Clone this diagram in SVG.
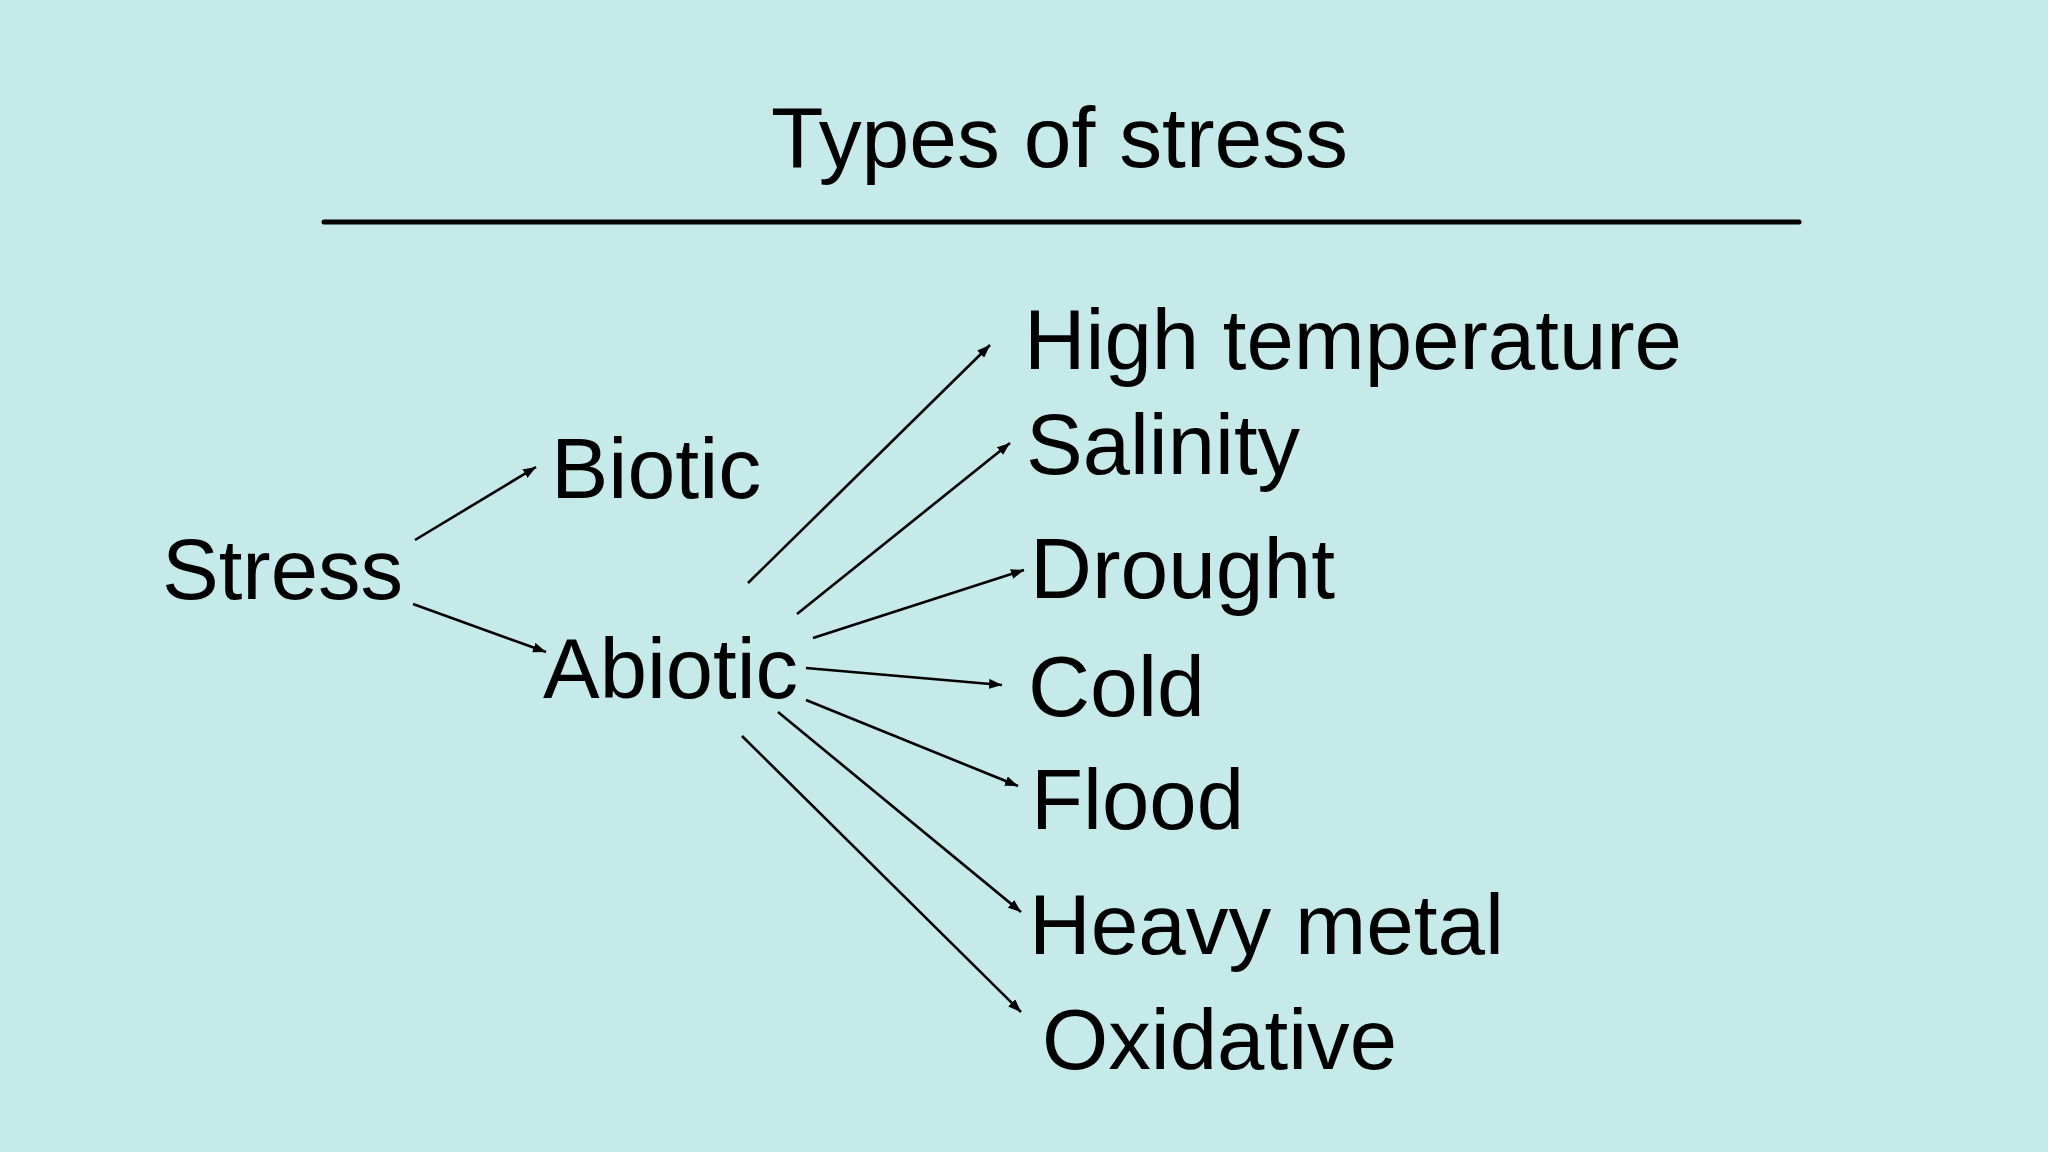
<svg xmlns="http://www.w3.org/2000/svg" width="2048" height="1152" viewBox="0 0 2048 1152">
  <style>
    .lbl { font-family: "Liberation Sans", Arial, sans-serif; font-size: 86px; fill: #000; }
    .conn line { stroke: #000; stroke-width: 2.6; marker-end: url(#arrow); }
  </style>
  <defs>
    <marker id="arrow" markerUnits="userSpaceOnUse" markerWidth="13" markerHeight="10" refX="13" refY="5" orient="auto">
      <path d="M0,0 L13,5 L0,10 z" fill="#000"/>
    </marker>
  </defs>
  <rect x="0" y="0" width="2048" height="1152" fill="#C6E9E9"/>

  <g id="title">
    <text class="lbl" x="771" y="167" textLength="577" lengthAdjust="spacingAndGlyphs">Types of stress</text>
    <line x1="324" y1="222" x2="1799" y2="222" stroke="#000" stroke-width="5" stroke-linecap="round"/>
  </g>

  <g id="node-stress"><text class="lbl" x="162" y="599" textLength="241" lengthAdjust="spacingAndGlyphs">Stress</text></g>
  <g id="node-biotic"><text class="lbl" x="551" y="498">Biotic</text></g>
  <g id="node-abiotic"><text class="lbl" x="543" y="698" textLength="255" lengthAdjust="spacingAndGlyphs">Abiotic</text></g>
  <g id="node-high-temperature"><text class="lbl" x="1024" y="369" textLength="658" lengthAdjust="spacingAndGlyphs">High temperature</text></g>
  <g id="node-salinity"><text class="lbl" x="1026" y="474" textLength="274" lengthAdjust="spacingAndGlyphs">Salinity</text></g>
  <g id="node-drought"><text class="lbl" x="1030" y="598" textLength="305" lengthAdjust="spacingAndGlyphs">Drought</text></g>
  <g id="node-cold"><text class="lbl" x="1028" y="716">Cold</text></g>
  <g id="node-flood"><text class="lbl" x="1031" y="829" textLength="213" lengthAdjust="spacingAndGlyphs">Flood</text></g>
  <g id="node-heavy-metal"><text class="lbl" x="1029" y="954" textLength="475" lengthAdjust="spacingAndGlyphs">Heavy metal</text></g>
  <g id="node-oxidative"><text class="lbl" x="1042" y="1069" textLength="355" lengthAdjust="spacingAndGlyphs">Oxidative</text></g>

  <g id="connectors" class="conn">
    <line x1="415" y1="540" x2="536" y2="467"/>
    <line x1="413" y1="604" x2="546" y2="652"/>
    <line x1="748" y1="583" x2="990" y2="345"/>
    <line x1="797" y1="614" x2="1010" y2="443"/>
    <line x1="813" y1="638" x2="1024" y2="570"/>
    <line x1="806" y1="668" x2="1002" y2="685"/>
    <line x1="806" y1="700" x2="1018" y2="786"/>
    <line x1="778" y1="712" x2="1021" y2="912"/>
    <line x1="742" y1="736" x2="1021" y2="1012"/>
  </g>
</svg>
